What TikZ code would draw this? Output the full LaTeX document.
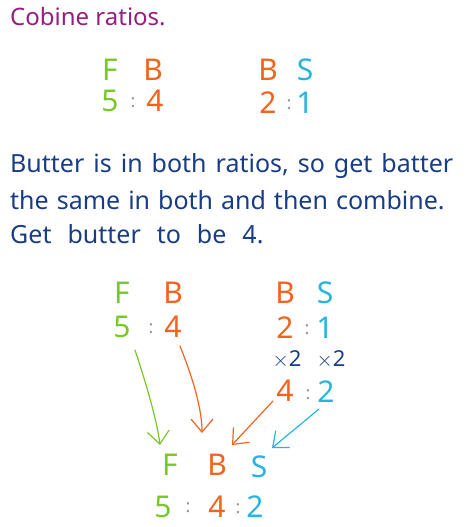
\documentclass[tikz,border=0pt]{standalone}
\usepackage{fontspec}
\setmainfont{Noto Sans}
\usepackage{tikz}
\usetikzlibrary{positioning}
\usetikzlibrary{arrows.meta}

\definecolor{flour}{RGB}{120,200,40}
\definecolor{butter}{RGB}{240,100,30}
\definecolor{sugar}{RGB}{40,180,225}
\definecolor{heading}{RGB}{150,30,130}
\definecolor{note}{RGB}{25,60,135}
\definecolor{dots}{RGB}{150,150,150}

\tikzset{
  ratio/.style={inner sep=0pt, text height=21pt, text depth=0pt, font=\fontsize{30}{34}\selectfont},
  sep/.style={inner sep=0pt, text height=12pt, text depth=0pt, text=dots, font=\fontsize{18}{20}\selectfont},
  line/.style={anchor=west, inner sep=0pt, text=note, font=\fontsize{25}{30}\selectfont},
  hand/.style={-{Straight Barb[length=13pt,width=22pt]}, line width=1.2pt, line cap=round},
}

\begin{document}
\begin{tikzpicture}[x=1pt,y=-1pt]
\useasboundingbox (0,0) rectangle (474,527);
% heading
\node[anchor=west, inner sep=0pt, text=heading, font=\fontsize{24}{28}\selectfont] (title) at (10,17) {Cobine ratios.};
% first pair of ratios
\node[ratio, text=flour] (tF) at (110,70) {F};
\node[ratio, text=butter] (tB) at (153,70) {B};
\node[ratio, text=flour] (t5) at (110,101) {5};
\node[sep] (tc) at (133,101) {:};
\node[ratio, text=butter] (t4) at (155,101) {4};
\node[ratio, text=butter] (uB) at (268,70) {B};
\node[ratio, text=sugar] (uS) at (305,70) {S};
\node[ratio, text=butter] (u2) at (268,103) {2};
\node[sep] (uc) at (289,103) {:};
\node[ratio, text=sugar] (u1) at (305,103) {1};
% explanation
\node[line] (l1) at (10,166) {\spaceskip=9pt Butter is in both ratios, so get batter};
\node[line] (l2) at (10,200) {\spaceskip=8pt the same in both and then combine.};
\node[line] (l3) at (10,234) {\spaceskip=16pt Get butter to be 4.};
% second pair of ratios
\node[ratio, text=flour] (aF) at (122,293) {F};
\node[ratio, text=butter] (aB) at (173,293) {B};
\node[ratio, text=flour] (a5) at (122,327) {5};
\node[sep] (ac) at (151,327) {:};
\node[ratio, text=butter] (a4) at (173,327) {4};
\node[ratio, text=butter] (bB) at (285,293) {B};
\node[ratio, text=sugar] (bS) at (325,293) {S};
\node[ratio, text=butter] (b2) at (285,328) {2};
\node[sep] (bc) at (307,328) {:};
\node[ratio, text=sugar] (b1) at (325,328) {1};
\foreach \x/\n in {287/m1,331/m2}
  \node[inner sep=0pt, text height=14pt, text depth=0pt, text=note, font=\fontsize{22}{26}\selectfont] (\n) at (\x,359) {$\times$2};
\node[ratio, text=butter] (c4) at (285,391) {4};
\node[sep] (cc) at (308,393) {:};
\node[ratio, text=sugar] (c2) at (326,392) {2};
% combined ratio
\node[ratio, text=flour] (dF) at (170,465) {F};
\node[ratio, text=butter] (dB) at (217,465) {B};
\node[ratio, text=sugar] (dS) at (259,467) {S};
\node[ratio, text=flour] (d5) at (163,507) {5};
\node[sep] (dc1) at (188,506) {:};
\node[ratio, text=butter] (d4) at (217,507) {4};
\node[sep] (dc2) at (238,507) {:};
\node[ratio, text=sugar] (d2) at (255,507) {2};
% arrows
\draw[hand, flour] ([xshift=13pt,yshift=-23pt]a5.center) .. controls +(10,30) and +(-3,-25) .. ([xshift=-10pt,yshift=20pt]dF.center);
\draw[hand, butter] ([xshift=7pt,yshift=-19pt]a4.center) .. controls +(12,30) and +(0,-25) .. ([xshift=-15pt,yshift=32pt]dB.center);
\draw[hand, butter] ([xshift=-12pt,yshift=-10pt]c4.center) -- ([xshift=15pt,yshift=20pt]dB.center);
\draw[hand, sugar] ([xshift=-7pt,yshift=-17pt]c2.center) -- ([xshift=13pt,yshift=19pt]dS.center);
\end{tikzpicture}
\end{document}
